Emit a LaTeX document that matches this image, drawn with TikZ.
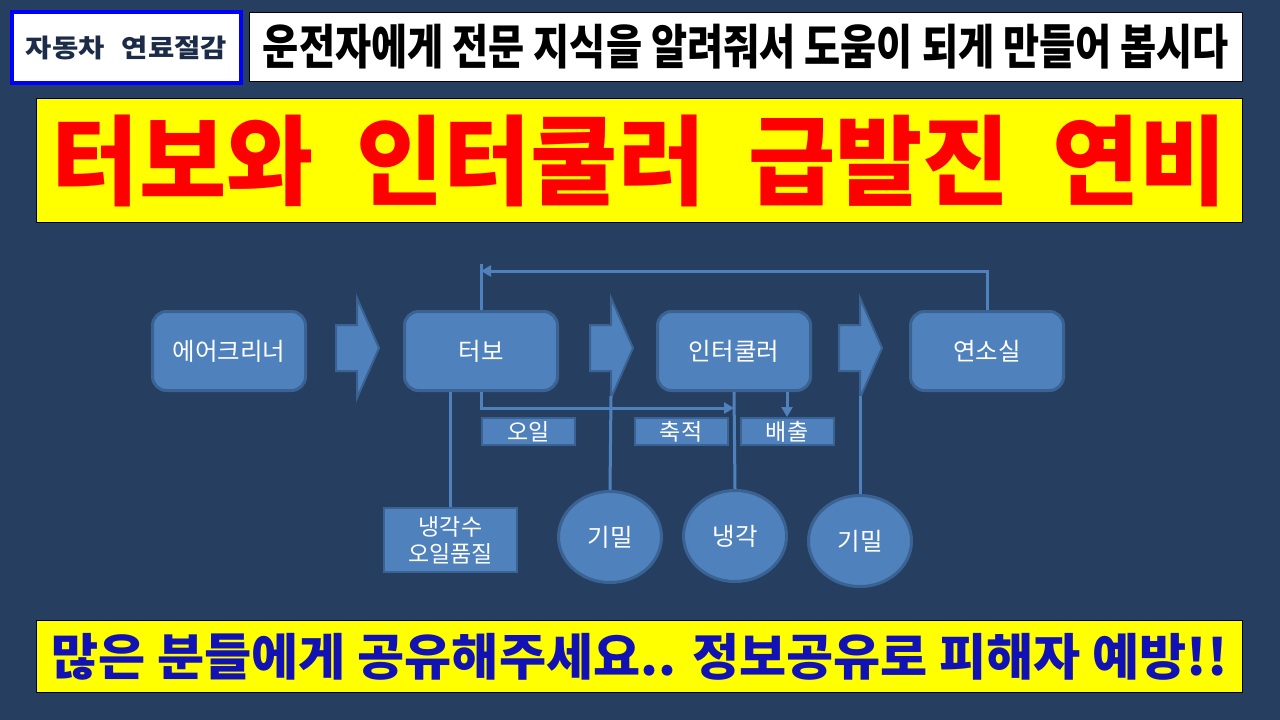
\documentclass[tikz,border=0pt]{standalone}
\usepackage{fontspec}
\setmainfont{Noto Sans CJK KR}
\usepackage{graphicx}
\usetikzlibrary{arrows.meta, calc, positioning, shapes.geometric}
\definecolor{grund}{HTML}{263F60}
\definecolor{kasten}{HTML}{4F81BD}
\definecolor{rand}{HTML}{3A6394}
\definecolor{gelb}{HTML}{FFFF00}
\definecolor{tinte}{HTML}{1212B4}
\definecolor{marine}{HTML}{1C2C48}

\begin{document}
\begin{tikzpicture}[
        x=1pt, y=-1pt,
        every node/.style={font=\fontsize{24.5}{29}\selectfont, text=white},
        bauteil/.style={draw=rand, line width=3pt, fill=kasten, rounded corners=14pt,
                        minimum width=153pt, minimum height=79pt, inner sep=0pt},
        etikett/.style={draw=rand, line width=2pt, fill=kasten, minimum width=93pt,
                        minimum height=27pt, inner sep=0pt, font=\fontsize{23}{28}\selectfont},
        kreis/.style={ellipse, draw=rand, line width=3pt, fill=kasten,
                      minimum width=103pt, minimum height=91pt, inner sep=0pt},
        leitung/.style={draw=kasten, line width=3pt},
        pfeil/.style={leitung, -{Triangle[length=10pt,width=11pt]}},
      ]
      \useasboundingbox (0,0) rectangle (1280,720);
      \fill[grund] (0,0) rectangle (1280,720);

      % Kopfzeile
      \node[draw=blue, line width=4pt, fill=white, minimum width=229pt, minimum height=71pt,
            inner sep=0pt, text=marine] (marke) at (126.5,47.5)
        {\resizebox*{201pt}{24pt}{\bfseries 자동차\hspace{0.6em}연료절감}};
      \node[draw=black, line width=1pt, fill=white, minimum width=993pt, minimum height=69pt,
            inner sep=0pt, text=black] (motto) at (746,47)
        {\resizebox*{966pt}{45pt}{\bfseries 운전자에게 전문 지식을 알려줘서 도움이 되게 만들어 봅시다}};
      \node[draw=black, line width=1.5pt, fill=gelb, minimum width=1206pt, minimum height=124pt,
            inner sep=0pt, text=red] (titel) at (639.5,160.5)
        {\resizebox*{1175pt}{92pt}{\bfseries 터보와\hspace{.45em}인터쿨러\hspace{.45em}급발진\hspace{.45em}연비}};
      \node[draw=black, line width=1.5pt, fill=gelb, minimum width=1206pt, minimum height=72pt,
            inner sep=0pt, text=tinte] (aufruf) at (639.5,656.5)
        {\resizebox*{1176pt}{47pt}{\bfseries 많은 분들에게 공유해주세요.. 정보공유로 피해자 예방!!}};

      % Luftweg
      \node[bauteil] (filter)  at (229,351) {에어크리너};
      \node[bauteil] (turbo)   at (481,351) {터보};
      \node[bauteil] (kuehler) at (734,351) {인터쿨러};
      \node[bauteil] (brenn)   at (987,351) {연소실};

      \foreach \x/\n in {336/a, 590/b, 839/c} {
        \filldraw[fill=kasten, draw=rand, line width=2pt]
          (\x,325) -- (\x+21,325) -- (\x+21,298) -- (\x+43,348)
          -- (\x+21,398) -- (\x+21,371) -- (\x,371) -- cycle;
        \coordinate (spitze\n) at (\x+21,396);
      }

      % Beschriftungen
      \node[etikett] (oel)      at (528.5,431.5) {오일};
      \node[etikett] (speicher) at (681,431.5)   {축적};
      \node[etikett] (abgabe)   at (787,431.5)   {배출};
      \node[etikett, minimum width=133pt, minimum height=64pt, align=center,
            font=\fontsize{23}{27}\selectfont]
        (wasser) at (450.5,540) {냉각수\\오일품질};

      \node[kreis] (dicht1) at (610,537) {기밀};
      \node[kreis] (kalt)   at (735,536) {냉각};
      \node[kreis] (dicht2) at (860,541) {기밀};

      % Leitungen
      \coordinate (oben) at (481,264);
      \coordinate (rueck) at (481,271);
      \coordinate (oelziel) at (734,408);
      \draw[leitung] (turbo.north) -- (oben);
      \draw[pfeil] (brenn.north) |- (rueck);
      \draw[pfeil] (turbo.south) |- (oelziel);
      \draw[leitung] (kuehler.south) -- (kalt.north);
      \draw[pfeil] (kuehler.south -| abgabe.north) -- (abgabe.north);
      \draw[leitung] (spitzeb) -- (dicht1.north);
      \draw[leitung] (spitzec) -- (dicht2.north);
      \draw[leitung] (turbo.south -| wasser.north) -- (wasser.north);
    \end{tikzpicture}
\end{document}
